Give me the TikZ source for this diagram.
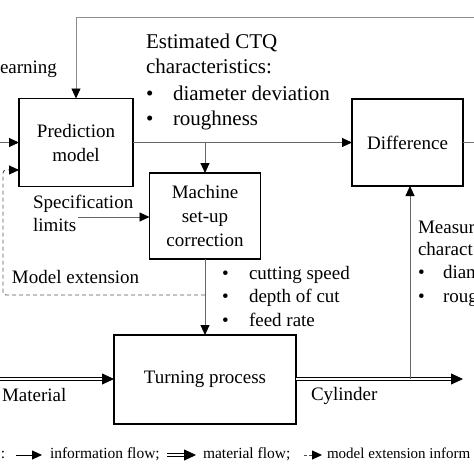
\documentclass[tikz,border=0pt]{standalone}
\usepackage{fontspec}
\setmainfont{Liberation Serif}
\usetikzlibrary{arrows.meta}
\begin{document}
\begin{tikzpicture}[x=1pt,y=-1pt,
  every node/.style={inner sep=0pt, outer sep=0pt},
  txt/.style={anchor=base west, font=\fontsize{19}{24}\selectfont},
  esttxt/.style={anchor=base west, font=\fontsize{21}{25}\selectfont},
  legtxt/.style={anchor=base west, font=\fontsize{15.5}{18}\selectfont},
  boxnode/.style={draw=black, line width=1.2pt, align=center, font=\fontsize{19}{24}\selectfont},
  tip/.style={-{Triangle[length=10pt,width=9pt,color=black]}},
  info/.style={draw=black!60, line width=0.9pt, tip},
  plain/.style={draw=black!55, line width=0.9pt},
  matflow/.style={draw=black, line width=0.8pt, double, double distance=2.2pt, -{Triangle[length=12pt,width=11pt,color=black]}},
  ext/.style={draw=black!65, line width=0.9pt, dash pattern=on 4pt off 3pt, rounded corners=3pt, tip}
]
\useasboundingbox (0,0) rectangle (474,474);

% boxes
\node[boxnode, minimum width=114pt, minimum height=88pt] (pred) at (76,142.5) {Prediction\\model};
\node[boxnode, minimum width=111pt, minimum height=87pt] (diff) at (407.5,142.5) {Difference};
\node[boxnode, minimum width=111pt, minimum height=86pt] (mach) at (205,216) {Machine\\set-up\\correction};
\node[boxnode, minimum width=182pt, minimum height=89pt] (turn) at (205,379.5) {Turning process};

% coordinates
\coordinate (inL) at (0,142.5);
\coordinate (br) at (205,142.5);
\coordinate (specS) at (78,217);
\coordinate (dashS) at (205,295);
\coordinate (dashC) at (3,170);
\coordinate (matS) at (0,379);
\coordinate (cylE) at (463,379);
\coordinate (mS) at (410,379);
\coordinate (fbR) at (474,142.5);
\coordinate (fbT) at (474,17);

% connectors
\draw[info] (inL) -- (pred.west);
\draw[info] (pred.east) -- (diff.west);
\draw[info] (br) -- (mach.north);
\draw[info] (specS) -- (specS -| mach.west);
\draw[info] (mach.south) -- (turn.north);
\draw[ext] (dashS) -| (dashC) -- (dashC -| pred.west);
\draw[matflow] (matS) -- (matS -| turn.west);
\draw[matflow] (turn.east |- cylE) -- (cylE);
\draw[info] (mS) -- (mS |- diff.south);
\draw[plain] (diff.east) -- (fbR);
\draw[draw=black!45, line width=0.9pt, tip] (fbT) -| (pred.north);

% texts
\node[txt] (learn) at (0,73) {earning};
\node[esttxt] (est1) at (146,48) {Estimated CTQ};
\node[esttxt] (est2) at (146,73) {characteristics:};
\node[esttxt] (est3) at (146,100) {\textbullet};
\node[esttxt] (est4) at (173,100) {diameter deviation};
\node[esttxt] (est5) at (146,125) {\textbullet};
\node[esttxt] (est6) at (173,125) {roughness};
\node[txt] (spec1) at (33,208) {Specification};
\node[txt] (spec2) at (33,231) {limits};
\node[txt] (mext) at (12,283) {Model extension};
\node[txt] (cs0) at (222,279) {\textbullet};
\node[txt] (cs1) at (249,279) {cutting speed};
\node[txt] (cs2) at (222,302) {\textbullet};
\node[txt] (cs3) at (249,302) {depth of cut};
\node[txt] (cs4) at (222,326) {\textbullet};
\node[txt] (cs5) at (249,326) {feed rate};
\node[txt] (ms1) at (418,233) {Measur};
\node[txt] (ms2) at (418,255) {charact};
\node[txt] (ms3) at (418,278) {\textbullet};
\node[txt] (ms4) at (443,278) {diam};
\node[txt] (ms5) at (418,302) {\textbullet};
\node[txt] (ms6) at (443,302) {roug};
\node[txt] (mat) at (2,401) {Material};
\node[txt] (cyl) at (311,400) {Cylinder};

% legend
\node[legtxt] (lg0) at (1,458) {:};
\coordinate (l1a) at (16,455);
\coordinate (l1b) at (42,455);
\draw[info, draw=black] (l1a) -- (l1b);
\node[legtxt] (lg1) at (50,458) {information flow;};
\coordinate (l2a) at (167,455);
\coordinate (l2b) at (196,455);
\draw[matflow] (l2a) -- (l2b);
\node[legtxt] (lg2) at (203,458) {material flow;};
\coordinate (l3a) at (304,455);
\coordinate (l3b) at (322,455);
\draw[draw=black!70, line width=0.9pt, dash pattern=on 3pt off 2pt, tip] (l3a) -- (l3b);
\node[legtxt, font=\fontsize{15}{18}\selectfont] (lg3) at (327,458) {model extension inform};
\end{tikzpicture}
\end{document}
